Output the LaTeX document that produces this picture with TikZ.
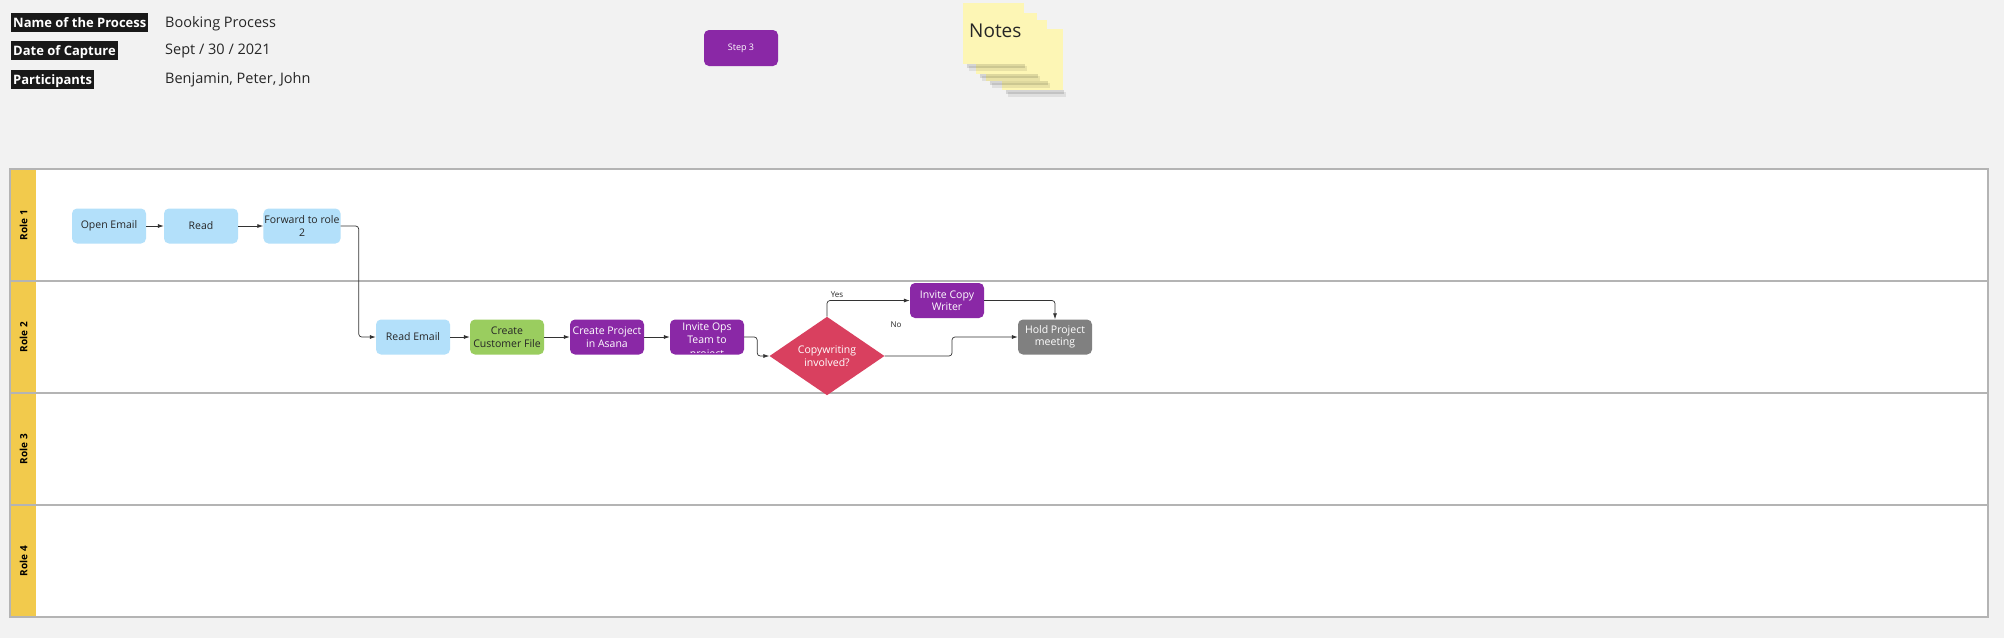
\documentclass[tikz,border=0pt]{standalone}
\usepackage{fontspec}
\setmainfont{Open Sans}
\usetikzlibrary{arrows.meta,shapes.geometric,calc}
\definecolor{bg}{HTML}{F2F2F2}
\definecolor{lanegray}{HTML}{B4B4B4}
\definecolor{roleyellow}{HTML}{F2CA4C}
\definecolor{lblue}{HTML}{B3E0FA}
\definecolor{lgreen}{HTML}{9ACD5F}
\definecolor{purp}{HTML}{8A28A6}
\definecolor{crim}{HTML}{D9405F}
\definecolor{gry}{HTML}{808080}
\definecolor{notey}{HTML}{FDF6B5}
\definecolor{txt}{HTML}{262626}
\tikzset{
  box/.style={rounded corners=5pt, minimum width=74pt, minimum height=35pt, inner sep=1pt, align=center, font=\fontsize{10.5}{12.5}\selectfont},
  bluebox/.style={box, fill=lblue, text=txt},
  greenbox/.style={box, fill=lgreen, text=txt},
  purpbox/.style={box, fill=purp, text=white},
  graybox/.style={box, fill=gry, text=white},
  conn/.style={draw=black!80, line width=0.7pt, rounded corners=3pt, -{Latex[length=6pt,width=4pt]}},
  hdrlabel/.style={fill=black!90, text=white, anchor=base west, inner xsep=2pt, inner ysep=2pt, text height=12pt, text depth=3pt, font=\fontsize{13}{15}\selectfont\bfseries},
  hdrvalue/.style={anchor=base west, text=txt, inner sep=0pt, font=\fontsize{14.5}{17}\selectfont},
  lane/.style={fill=white, draw=lanegray, line width=1.2pt},
  rolelbl/.style={rotate=90, font=\fontsize{10}{12}\selectfont\bfseries, text=black},
  note/.style={fill=notey, draw=none},
  small/.style={font=\fontsize{8}{10}\selectfont, text=txt, inner sep=0pt}
}
\begin{document}
\begin{tikzpicture}[x=1pt,y=-1pt]
\useasboundingbox (0,0) rectangle (2004,638);
\fill[bg] (0,0) rectangle (2004,638);

% header
\node[hdrlabel] (l1) at (11,27) {Name of the Process};
\node[hdrlabel] (l2) at (11,55) {Date of Capture};
\node[hdrlabel] (l3) at (11,84) {Participants};
\node[hdrvalue] (v1) at (165,27.3) {Booking Process};
\node[hdrvalue] (v2) at (165,54.3) {Sept / 30 / 2021};
\node[hdrvalue] (v3) at (165,83.3) {Benjamin, Peter, John};

% step 3
\node[rounded corners=5pt, fill=purp, text=white, minimum width=74pt, minimum height=36pt, font=\fontsize{9}{11}\selectfont] (s3) at (741,48) {Step 3};

% sticky notes
\foreach \x/\y in {1002/29, 986/20, 976/13, 963/3}{
  \fill[black, opacity=0.12] (\x+4,\y+61) rectangle (\x+62,\y+65);
  \fill[black, opacity=0.08] (\x+6,\y+63) rectangle (\x+64,\y+68);
  \fill[note] (\x,\y) rectangle (\x+61,\y+61);
}
\node[anchor=base west, inner sep=0pt, font=\fontsize{19}{22}\selectfont, text=txt] (nt) at (969,37.5) {Notes};

% swimlanes
\foreach \t in {169,281,393,505}{
  \draw[lane] (10,\t) rectangle (1988,\t+112);
  \fill[roleyellow] (11,\t+1) rectangle (36,\t+111);
}
\node[rolelbl] (r1) at (23.5,225) {Role 1};
\node[rolelbl] (r2) at (23.5,337) {Role 2};
\node[rolelbl] (r3) at (23.5,449) {Role 3};
\node[rolelbl] (r4) at (23.5,561) {Role 4};

% role 1
\node[bluebox] (oe) at (109,226) {Open Email};
\node[bluebox] (rd) at (201,226) {Read};
\node[bluebox] (fw) at (302,226) {Forward to role\\2};

% role 2
\node[bluebox] (re) at (413,337) {Read Email};
\node[greenbox] (cc) at (507,337) {Create\\Customer File};
\node[purpbox] (cp) at (607,337) {Create Project\\in Asana};
\node[purpbox] (io) at (707,337) {};
\begin{scope}
  \clip (671,320) rectangle (743,352.5);
  \node[anchor=north, align=center, text=white, inner sep=0pt, font=\fontsize{10.5}{13.5}\selectfont] (iot) at (707,322.5) {Invite Ops\\Team to\\project};
\end{scope}
\node[diamond, fill=crim, text=white, inner sep=0pt, minimum width=115pt, minimum height=73pt, align=center, font=\fontsize{10.5}{12.5}\selectfont] (dm) at (827,356) {Copywriting\\involved?};
\node[purpbox] (ic) at (947,300.5) {Invite Copy\\Writer};
\node[graybox] (hp) at (1055,337) {Hold Project\\meeting};
\coordinate (nobend) at (952,356);

% connectors
\draw[conn] (oe.east) -- (rd.west);
\draw[conn] (rd.east) -- (fw.west);
\draw[conn] (fw.east) -- ++(18,0) |- (re.west);
\draw[conn] (re.east) -- (cc.west);
\draw[conn] (cc.east) -- (cp.west);
\draw[conn] (cp.east) -- (io.west);
\draw[conn] (io.east) -- ++(13,0) |- (dm.west);
\draw[conn] (dm.north) |- (ic.west);
\draw[conn] (ic.east) -| (hp.north);
\draw[conn] (dm.east) -- (nobend) |- (hp.west);
\node[small] (yes) at (837,295) {Yes};
\node[small] (no) at (896,325) {No};
\end{tikzpicture}
\end{document}
